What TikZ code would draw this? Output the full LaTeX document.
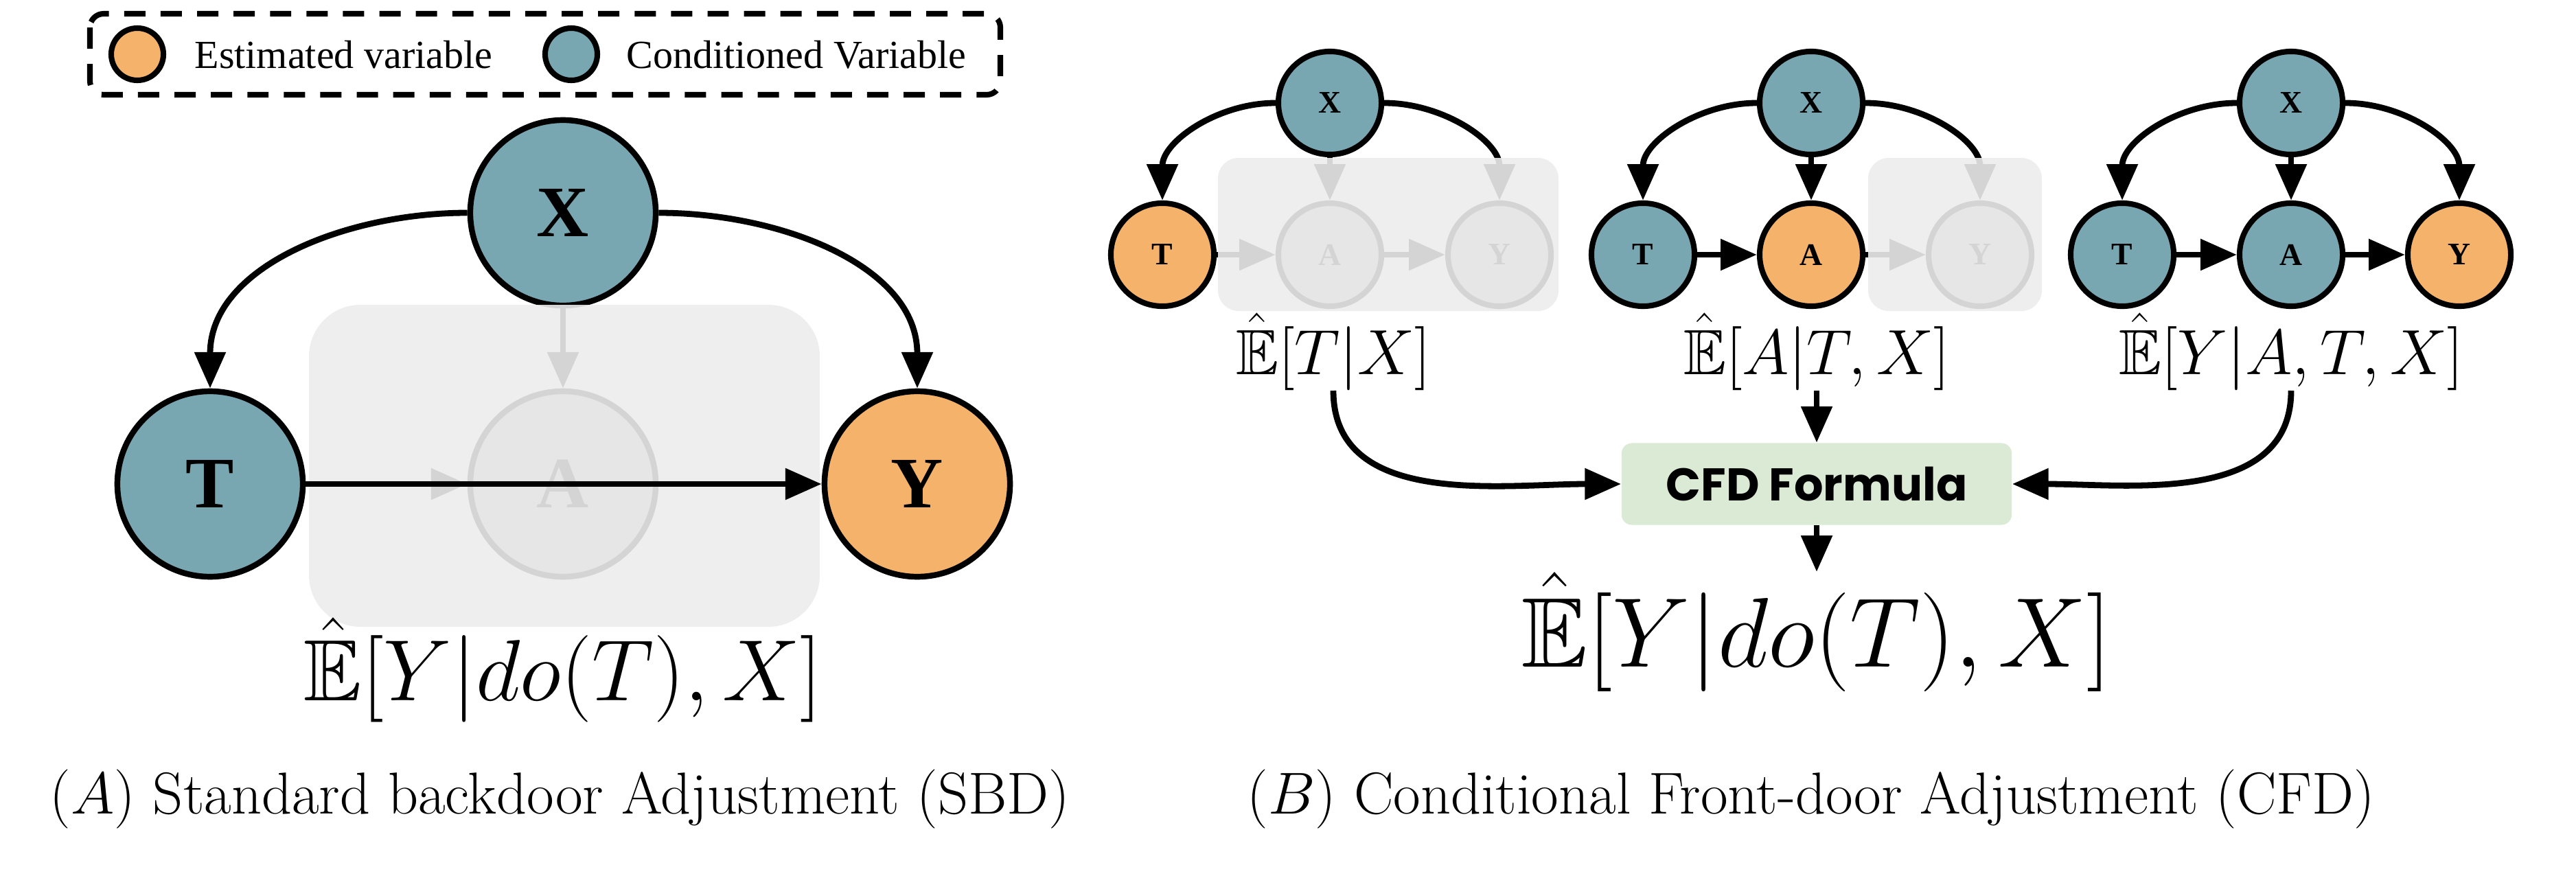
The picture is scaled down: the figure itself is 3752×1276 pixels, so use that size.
\documentclass[tikz,border=0pt]{standalone}
\usepackage{fix-cm}
\usepackage{amssymb}
\usepackage{fontspec}
\newfontfamily\timesf{Liberation Serif}
\newfontfamily\cfdf{Poppins}
\usetikzlibrary{arrows.meta}
\definecolor{tealc}{RGB}{120,166,177}
\definecolor{orangec}{RGB}{245,178,107}
\definecolor{greenc}{RGB}{218,234,212}
\definecolor{boxgray}{RGB}{236,236,236}
\definecolor{ghostfill}{RGB}{176,176,176}
\tikzset{
  bignode/.style={circle, draw=black, line width=2.4pt, minimum size=2.7cm, inner sep=0pt,
    font=\timesf\bfseries\fontsize{30}{30}\selectfont},
  smallnode/.style={circle, draw=black, line width=2.3pt, minimum size=1.5cm, inner sep=0pt,
    font=\timesf\bfseries\fontsize{13}{13}\selectfont},
  legcirc/.style={circle, draw=black, line width=2.3pt, minimum size=0.76cm, inner sep=0pt},
  legtext/.style={inner sep=0pt, anchor=base west, font=\timesf\fontsize{16.5}{18}\selectfont},
  est/.style={fill=orangec},
  cond/.style={fill=tealc},
  hid/.style={fill=ghostfill},
  arr/.style={line width=2.5pt, -{Triangle[length=15pt,width=12.5pt]}},
  ghostbox/.style={fill=boxgray, fill opacity=0.9},
  legendbox/.style={draw=black, line width=2.3pt, dash pattern=on 8.8pt off 6.3pt, rounded corners=0.2cm},
  lablarge/.style={inner sep=0pt, anchor=base, font=\fontsize{36}{40}\selectfont},
  labsmall/.style={inner sep=0pt, anchor=base, font=\fontsize{26.5}{30}\selectfont},
  labfinal/.style={inner sep=0pt, anchor=base, font=\fontsize{41}{45}\selectfont},
  caption/.style={inner sep=0pt, anchor=base west, font=\fontsize{24.5}{29}\selectfont},
  cfdbox/.style={fill=greenc, rounded corners=0.15cm, minimum width=5.68cm, minimum height=1.19cm,
    inner sep=0pt, font=\cfdf\bfseries\fontsize{19}{19}\selectfont}
}
\begin{document}
\begin{tikzpicture}[x=0.01cm, y=-0.01cm]
\useasboundingbox (0,0) rectangle (3752,1276);

% ---------- legend ----------
\draw[legendbox] (131,20) rectangle (1457,138);
\node[legcirc, est] (legE) at (200,79) {};
\node[legtext] (legEt) at (283,100) {Estimated variable};
\node[legcirc, cond] (legC) at (832,79) {};
\node[legtext] (legCt) at (912,100) {Conditioned Variable};

% ---------- panel A ----------
\node[bignode, cond] (XA) at (820,310) {X};
\node[bignode, cond] (TA) at (306,705) {T};
\node[bignode, est]  (YA) at (1336,705) {Y};
\node[bignode, hid]  (AA) at (820,705) {A};
\draw[arr] (XA.west) to[out=180,in=90] (TA.north);
\draw[arr] (XA.east) to[out=0,in=90] (YA.north);
\draw[arr] (XA.south) -- (AA.north);
\draw[arr] (TA.east) -- (AA.west);
\fill[ghostbox, rounded corners=0.75cm] (450,444) rectangle (1194,913);
\draw[arr] (TA.east) -- (YA.west);
\node[lablarge] (labA) at (820,1020) {$\hat{\mathbb{E}}[Y|do(T),X]$};

% ---------- panel B, sub-diagram 1 ----------
\node[smallnode, cond] (X1) at (1937,150) {X};
\node[smallnode, est]  (T1) at (1693,371) {T};
\node[smallnode, hid]  (A1) at (1937,371) {A};
\node[smallnode, hid]  (Y1) at (2184,371) {Y};
\draw[arr] (X1.west) to[out=180,in=90] (T1.north);
\draw[arr] (X1.east) to[out=0,in=90] (Y1.north);
\draw[arr] (X1.south) -- (A1.north);
\draw[arr] (T1.east) -- (A1.west);
\draw[arr] (A1.east) -- (Y1.west);
\fill[ghostbox, rounded corners=0.3cm] (1774,230) rectangle (2270,453);
\node[labsmall] (l1) at (1942,545) {$\hat{\mathbb{E}}[T|X]$};

% ---------- panel B, sub-diagram 2 ----------
\node[smallnode, cond] (X2) at (2638,150) {X};
\node[smallnode, cond] (T2) at (2393,371) {T};
\node[smallnode, est]  (A2) at (2638,371) {A};
\node[smallnode, hid]  (Y2) at (2884,371) {Y};
\draw[arr] (X2.west) to[out=180,in=90] (T2.north);
\draw[arr] (X2.east) to[out=0,in=90] (Y2.north);
\draw[arr] (X2.south) -- (A2.north);
\draw[arr] (T2.east) -- (A2.west);
\draw[arr] (A2.east) -- (Y2.west);
\fill[ghostbox, rounded corners=0.3cm] (2721,230) rectangle (2974,453);
\node[labsmall] (l2) at (2646,545) {$\hat{\mathbb{E}}[A|T,X]$};

% ---------- panel B, sub-diagram 3 ----------
\node[smallnode, cond] (X3) at (3337,150) {X};
\node[smallnode, cond] (T3) at (3091,371) {T};
\node[smallnode, cond] (A3) at (3337,371) {A};
\node[smallnode, est]  (Y3) at (3582,371) {Y};
\draw[arr] (X3.west) to[out=180,in=90] (T3.north);
\draw[arr] (X3.east) to[out=0,in=90] (Y3.north);
\draw[arr] (X3.south) -- (A3.north);
\draw[arr] (T3.east) -- (A3.west);
\draw[arr] (A3.east) -- (Y3.west);
\node[labsmall] (l3) at (3337,545) {$\hat{\mathbb{E}}[Y|A,T,X]$};

% ---------- CFD formula ----------
\node[cfdbox] (cfd) at (2646,705) {CFD Formula};
\node[labfinal] (fin) at (2646,971) {$\hat{\mathbb{E}}[Y|do(T),X]$};
\draw[arr] (l1.south) to[out=-90,in=180] (cfd.west);
\draw[arr] (l3.south) to[out=-90,in=0] (cfd.east);
\draw[arr] (l2.south) -- (cfd.north);
\draw[arr] (cfd.south) -- (fin.north);

% ---------- captions ----------
\node[caption] (capA) at (72,1185) {$(A)$ Standard backdoor Adjustment (SBD)};
\node[caption] (capB) at (1816,1185) {$(B)$ Conditional Front-door Adjustment (CFD)};
\end{tikzpicture}
\end{document}
